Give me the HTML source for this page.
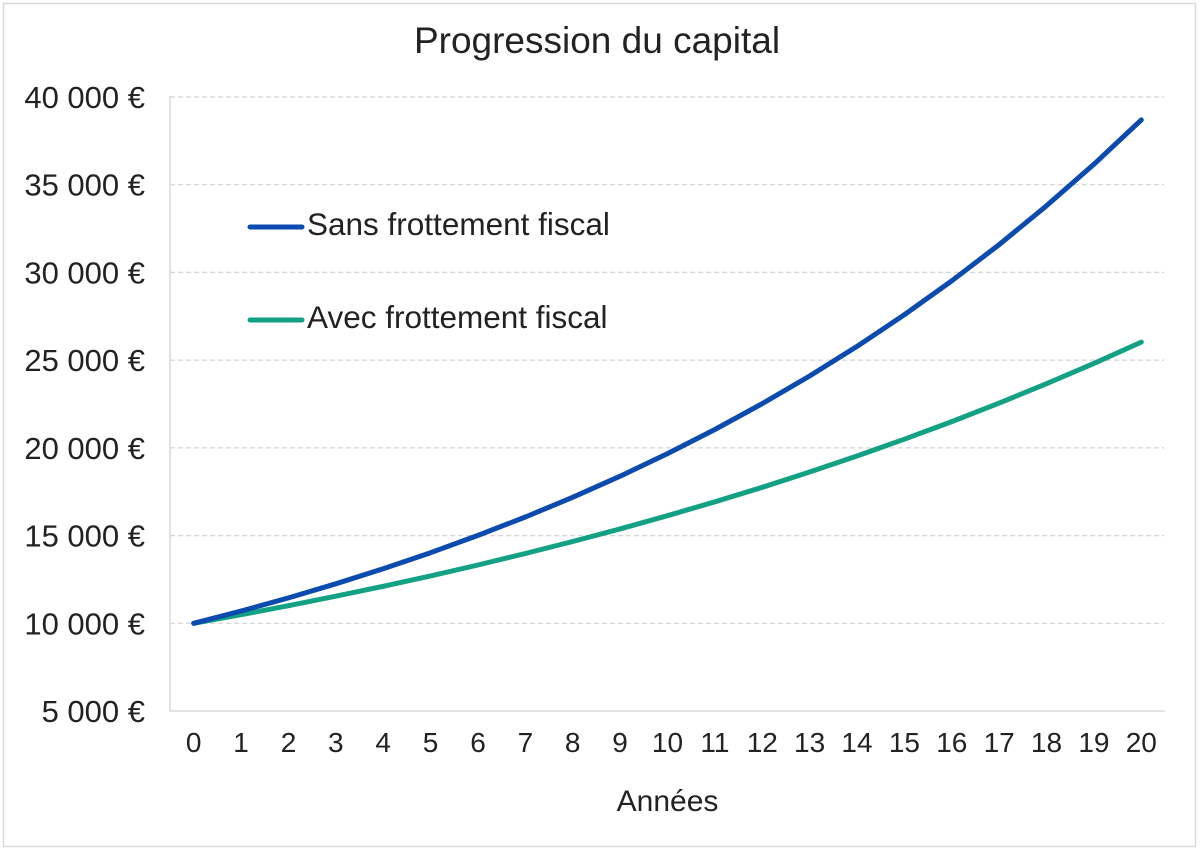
<!DOCTYPE html>
<html><head><meta charset="utf-8"><style>
html,body{margin:0;padding:0;background:#fff;}
svg{display:block;}
text{font-family:"Liberation Sans",Arial,sans-serif;fill:#222;}
</style></head><body>
<svg width="1200" height="853" viewBox="0 0 1200 853" xmlns="http://www.w3.org/2000/svg">
<rect x="0" y="0" width="1200" height="853" fill="#fff"/>
<rect x="3.5" y="3.5" width="1192" height="843" fill="none" stroke="#d9d9d9" stroke-width="1.5"/>
<text x="597" y="53" font-size="37" text-anchor="middle">Progression du capital</text>
<g stroke="#d4d4d4" stroke-width="1.2" stroke-dasharray="5,3">
<line x1="170" y1="97" x2="1164" y2="97"/>
<line x1="170" y1="184.7" x2="1164" y2="184.7"/>
<line x1="170" y1="272.4" x2="1164" y2="272.4"/>
<line x1="170" y1="360.1" x2="1164" y2="360.1"/>
<line x1="170" y1="447.9" x2="1164" y2="447.9"/>
<line x1="170" y1="535.6" x2="1164" y2="535.6"/>
<line x1="170" y1="623.3" x2="1164" y2="623.3"/>
</g>
<g stroke="#d9d9d9" stroke-width="1.5">
<line x1="170" y1="96" x2="170" y2="711"/>
<line x1="170" y1="711" x2="1165" y2="711"/>
</g>
<g font-size="31" text-anchor="end">
<text x="145" y="108">40 000 €</text>
<text x="145" y="195.7">35 000 €</text>
<text x="145" y="283.4">30 000 €</text>
<text x="145" y="371.1">25 000 €</text>
<text x="145" y="458.9">20 000 €</text>
<text x="145" y="546.6">15 000 €</text>
<text x="145" y="634.3">10 000 €</text>
<text x="145" y="722">5 000 €</text>
</g>
<g font-size="28" text-anchor="middle">
<text x="193.7" y="752">0</text>
<text x="241.1" y="752">1</text>
<text x="288.5" y="752">2</text>
<text x="335.8" y="752">3</text>
<text x="383.2" y="752">4</text>
<text x="430.6" y="752">5</text>
<text x="478.0" y="752">6</text>
<text x="525.4" y="752">7</text>
<text x="572.7" y="752">8</text>
<text x="620.1" y="752">9</text>
<text x="667.5" y="752">10</text>
<text x="714.9" y="752">11</text>
<text x="762.3" y="752">12</text>
<text x="809.6" y="752">13</text>
<text x="857.0" y="752">14</text>
<text x="904.4" y="752">15</text>
<text x="951.8" y="752">16</text>
<text x="999.2" y="752">17</text>
<text x="1046.5" y="752">18</text>
<text x="1093.9" y="752">19</text>
<text x="1141.3" y="752">20</text>
</g>
<text x="667.5" y="811" font-size="30" text-anchor="middle">Années</text>
<polyline fill="none" stroke="#13a183" stroke-width="5" stroke-linecap="round" stroke-linejoin="round" points="193.7,623.3 241.1,614.7 288.5,605.7 335.8,596.2 383.2,586.3 430.6,575.9 478.0,565.0 525.4,553.5 572.7,541.5 620.1,528.9 667.5,515.7 714.9,501.8 762.3,487.3 809.6,472.0 857.0,456.0 904.4,439.2 951.8,421.6 999.2,403.1 1046.5,383.7 1093.9,363.4 1141.3,342.1"/>
<polyline fill="none" stroke="#0b4aae" stroke-width="5" stroke-linecap="round" stroke-linejoin="round" points="193.7,623.3 241.1,611.0 288.5,597.9 335.8,583.8 383.2,568.8 430.6,552.7 478.0,535.4 525.4,517.0 572.7,497.3 620.1,476.2 667.5,453.6 714.9,429.5 762.3,403.6 809.6,376.0 857.0,346.4 904.4,314.7 951.8,280.8 999.2,244.6 1046.5,205.8 1093.9,164.3 1141.3,119.9"/>
<line x1="250" y1="227" x2="302" y2="227" stroke="#0b4aae" stroke-width="5" stroke-linecap="round"/>
<text x="307" y="235" font-size="31.5">Sans frottement fiscal</text>
<line x1="250" y1="320" x2="302" y2="320" stroke="#13a183" stroke-width="5" stroke-linecap="round"/>
<text x="307" y="328" font-size="31.5">Avec frottement fiscal</text>
</svg>
</body></html>
